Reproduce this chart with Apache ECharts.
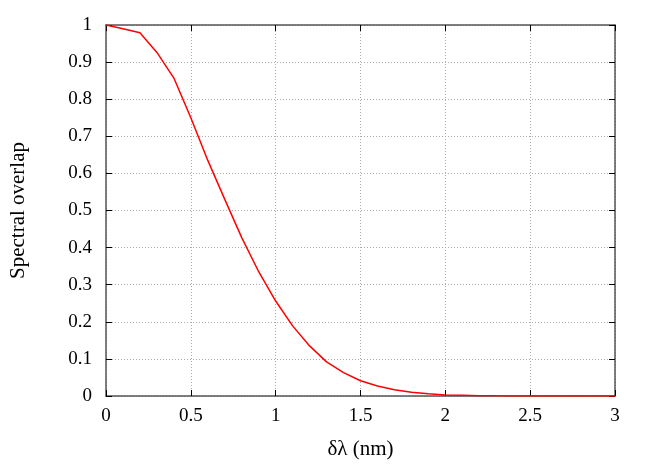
<!DOCTYPE html>
<html><head><meta charset="utf-8">
<script src="https://cdn.jsdelivr.net/npm/echarts@6/dist/echarts.min.js"></script>
<style>html,body{margin:0;padding:0;background:#fff}#c{width:664px;height:465px}</style>
</head><body><div id="c"></div>
<script>
const xValues = [0, 0.1, 0.2, 0.3, 0.4, 0.5, 0.6, 0.7, 0.8, 0.9, 1.0, 1.1, 1.2, 1.3, 1.4, 1.5, 1.6, 1.7, 1.8, 1.9, 2.0, 2.1, 2.2, 2.3, 2.4, 2.5, 2.6, 2.7, 2.8, 2.9, 3.0];
const overlap = [1.0, 0.99, 0.979, 0.926, 0.857, 0.75, 0.635, 0.53, 0.427, 0.335, 0.256, 0.189, 0.135, 0.092, 0.063, 0.041, 0.027, 0.017, 0.010, 0.006, 0.003, 0.002, 0.001, 0.0005, 0.0003, 0.0002, 0.0001, 0, 0, 0, 0];
const xTitle = 'δλ (nm)';
const yTitle = 'Spectral overlap';

const font = 'Liberation Serif';
const axisColor = '#555';
const chart = echarts.init(document.getElementById('c'));
const gridStyle = {show: true, lineStyle: {color: '#aaa', type: [1, 2], width: 1}};
chart.setOption({
  animation: false,
  grid: {left: 105, right: 49, top: 25, bottom: 68},
  xAxis: [{
    type: 'value', min: 0, max: 3, interval: 0.5,
    name: xTitle, nameLocation: 'middle', nameGap: 43,
    nameTextStyle: {fontFamily: font, fontSize: 21, color: '#000'},
    axisLine: {show: true, onZero: false, lineStyle: {color: axisColor, width: 1.5}},
    axisTick: {show: true, inside: true, length: 6, lineStyle: {color: '#000'}},
    axisLabel: {fontFamily: font, fontSize: 19, color: '#000', margin: 11},
    splitLine: gridStyle
  }, {
    type: 'value', position: 'top', min: 0, max: 3, interval: 0.5,
    axisLine: {show: true, onZero: false, lineStyle: {color: axisColor, width: 1.5}},
    axisTick: {show: true, inside: true, length: 6, lineStyle: {color: '#000'}},
    axisLabel: {show: false}, splitLine: {show: false}
  }],
  yAxis: [{
    type: 'value', min: 0, max: 1, interval: 0.1,
    name: yTitle, nameLocation: 'middle', nameGap: 77, nameRotate: 90,
    nameTextStyle: {fontFamily: font, fontSize: 21, color: '#000'},
    axisLine: {show: true, onZero: false, lineStyle: {color: axisColor, width: 1.5}},
    axisTick: {show: true, inside: true, length: 6, lineStyle: {color: '#000'}},
    axisLabel: {fontFamily: font, fontSize: 19, color: '#000', margin: 14,
      formatter: v => String(Math.round(v * 10) / 10)},
    splitLine: gridStyle
  }, {
    type: 'value', position: 'right', min: 0, max: 1, interval: 0.1,
    axisLine: {show: true, onZero: false, lineStyle: {color: axisColor, width: 1.5}},
    axisTick: {show: true, inside: true, length: 6, lineStyle: {color: '#000'}},
    axisLabel: {show: false}, splitLine: {show: false}
  }],
  series: [{
    type: 'line', showSymbol: false, symbol: 'none',
    data: xValues.map((x, i) => [x, overlap[i]]),
    lineStyle: {color: '#ff0000', width: 1.5},
    itemStyle: {color: '#ff0000'}
  }]
});
</script></body></html>
